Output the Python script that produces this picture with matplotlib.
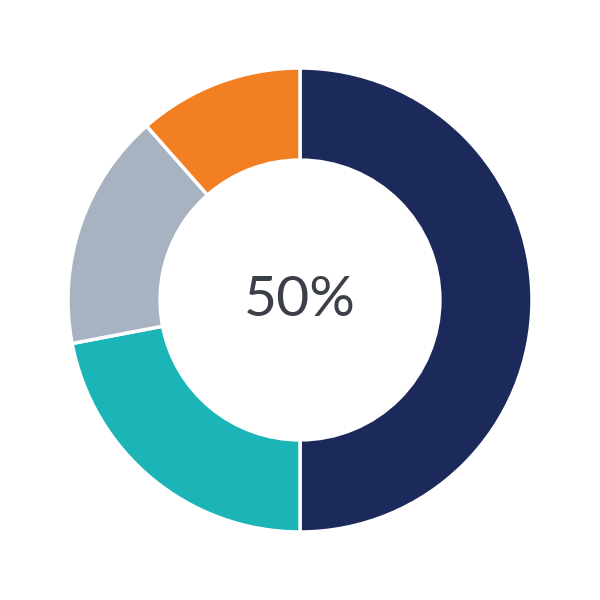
import matplotlib.pyplot as plt

labels = ['A', 'B', 'C', 'D']
values = [50, 22, 16.5, 11.5]
colors = ['#1b2a5a', '#1bb5b8', '#a8b3c2', '#f27f22']
center_text = '50%'

fig = plt.figure(figsize=(6, 6), dpi=100)
ax = fig.add_axes([0, 0, 1, 1])

ax.pie(values, colors=colors, startangle=90, counterclock=False,
       radius=1, wedgeprops=dict(width=0.397, edgecolor='white', linewidth=2.5))
ax.text(0, 0, center_text, ha='center', va='center', fontsize=41,
        family=['Lato', 'DejaVu Sans'], color='#3a3f48')

lim = 300 / 232
ax.set_xlim(-lim, lim)
ax.set_ylim(-lim, lim)
ax.set_aspect('equal')
ax.axis('off')

fig.savefig('out.png', dpi=100, facecolor='white')
